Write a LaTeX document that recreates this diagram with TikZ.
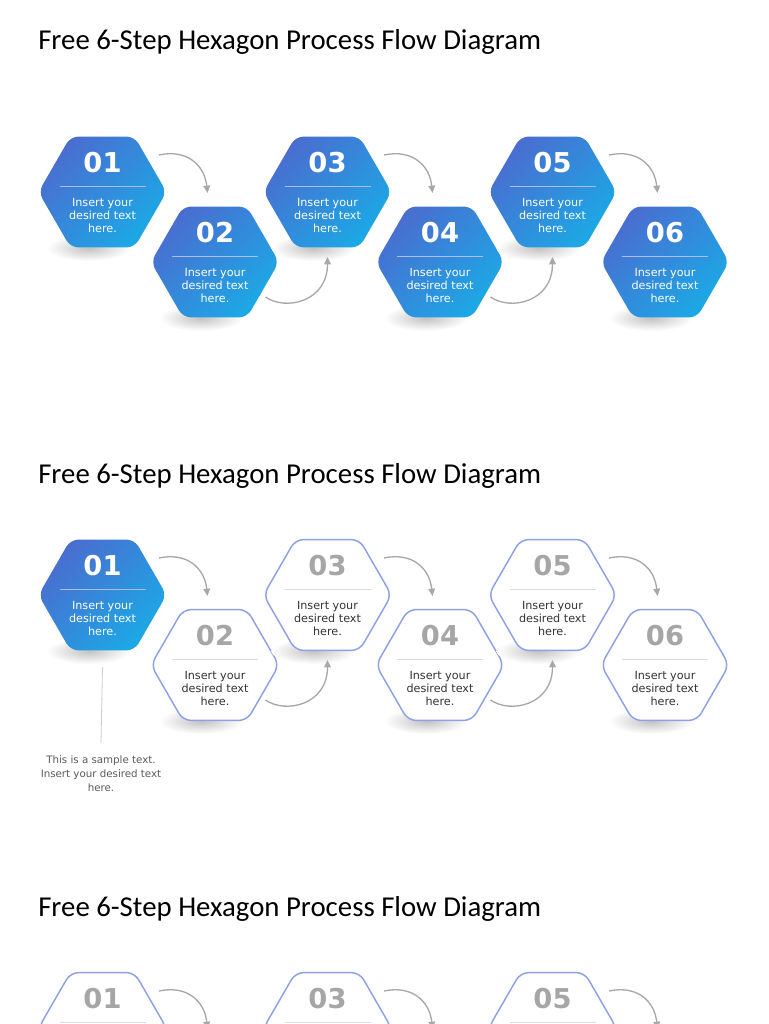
\documentclass[tikz,border=0pt]{standalone}
\usepackage{fontspec}
\setmainfont{DejaVu Sans}
\newfontfamily\headfont{Carlito}
\usetikzlibrary{arrows.meta,shapes.geometric}
\definecolor{hexA}{HTML}{4A6DD0}
\definecolor{hexB}{HTML}{1BA9E6}
\definecolor{rim}{HTML}{8FA1E6}
\definecolor{numgray}{HTML}{A6A6A6}
\definecolor{arrowgray}{HTML}{A8A8A8}
\definecolor{rulegray}{HTML}{DCDCDC}
\definecolor{rulelight}{HTML}{AFBCEC}
\definecolor{ink}{HTML}{333333}
\definecolor{notegray}{HTML}{5A5A5A}

\begin{document}
\begin{tikzpicture}[
  x=0.75pt,y=-0.75pt,
  hexbase/.style={regular polygon,regular polygon sides=6,minimum size=96pt,
                  inner sep=0pt,outer sep=0pt,rounded corners=6pt},
  hexfill/.style={hexbase,top color=hexA,bottom color=hexB,shading angle=45},
  hexline/.style={hexbase,draw=rim,fill=white,line width=1.1pt},
  numw/.style={font=\fontsize{20.5}{24}\selectfont\bfseries,text=white,inner sep=0pt},
  numg/.style={numw,text=numgray},
  txtw/.style={font=\fontsize{8.4}{10.1}\selectfont,align=center,text=white,inner sep=0pt},
  txtg/.style={txtw,text=ink},
  rulew/.style={draw=rulelight,line width=0.6pt},
  ruleg/.style={draw=rulegray,line width=0.6pt},
  flow/.style={-{Triangle[length=5.5pt,width=5pt]},draw=arrowgray,line width=1pt},
  softshade/.style={inner color=black!24,outer color=white},
  headline/.style={font=\headfont\fontsize{21.6}{26}\selectfont,anchor=base west,inner sep=0pt},
  note/.style={font=\fontsize{7.7}{10.5}\selectfont,align=center,text=notegray,inner sep=0pt},
  stem/.style={draw=black!20,line width=0.6pt}
]
\useasboundingbox (0,0) rectangle (768,1024);
\clip (0,0) rectangle (768,1024);
\fill[white] (0,0) rectangle (768,1024);

% slide 1: all steps filled
\node[headline] (t1) at (38,50) {Free 6-Step Hexagon Process Flow Diagram};
\foreach \n/\x/\y in {1/102.5/192,2/215/262,3/327.5/192,4/440/262,5/552.5/192,6/665/262}{
  \shade[softshade] (\x-14,\y+56) ellipse (42 and 13);
  \node[hexfill] (a\n) at (\x,\y) {};
  \node[numw] (a\n-num) at ([shift={(0,-29)}]a\n.center) {0\n};
  \draw[rulew] ([shift={(-43,-6)}]a\n.center) -- ([shift={(43,-6)}]a\n.center);
  \node[txtw] (a\n-txt) at ([shift={(0,23.5)}]a\n.center) {Insert your\\desired text\\here.};
}
\foreach \i/\j in {1/2,3/4,5/6}
  \draw[flow] ([shift={(56.5,-37)}]a\i.center) .. controls +(28,-6) and +(-3,-28) .. ([shift={(-7.5,-69)}]a\j.center);
\foreach \i/\j in {2/3,4/5}
  \draw[flow] ([shift={(50.5,35)}]a\i.center) .. controls +(20,14) and +(0,45) .. ([shift={(0,65)}]a\j.center);

% slide 2: first step filled, note below
\node[headline] (t2) at (38,483) {Free 6-Step Hexagon Process Flow Diagram};
\shade[softshade] (88.5,651) ellipse (42 and 13);
\node[hexfill] (b1) at (102.5,595) {};
\node[numw] (b1-num) at ([shift={(0,-29)}]b1.center) {01};
\draw[rulew] ([shift={(-43,-6)}]b1.center) -- ([shift={(43,-6)}]b1.center);
\node[txtw] (b1-txt) at ([shift={(0,23.5)}]b1.center) {Insert your\\desired text\\here.};
\foreach \n/\x/\y in {2/215/665,3/327.5/595,4/440/665,5/552.5/595,6/665/665}{
  \shade[softshade] (\x-14,\y+56) ellipse (42 and 13);
  \node[hexline] (b\n) at (\x,\y) {};
  \node[numg] (b\n-num) at ([shift={(0,-29)}]b\n.center) {0\n};
  \draw[ruleg] ([shift={(-43,-6)}]b\n.center) -- ([shift={(43,-6)}]b\n.center);
  \node[txtg] (b\n-txt) at ([shift={(0,23.5)}]b\n.center) {Insert your\\desired text\\here.};
}
\foreach \i/\j in {1/2,3/4,5/6}
  \draw[flow] ([shift={(56.5,-37)}]b\i.center) .. controls +(28,-6) and +(-3,-28) .. ([shift={(-7.5,-69)}]b\j.center);
\foreach \i/\j in {2/3,4/5}
  \draw[flow] ([shift={(50.5,35)}]b\i.center) .. controls +(20,14) and +(0,45) .. ([shift={(0,65)}]b\j.center);
\node[note] (b1-note) at (101,774) {This is a sample text.\\Insert your desired text\\here.};
\draw[stem] ([shift={(0,17)}]b1.south) -- ([shift={(0,-13)}]b1-note.north);

% slide 3: cut off by the page edge
\node[headline] (t3) at (38,916) {Free 6-Step Hexagon Process Flow Diagram};
\foreach \n/\x in {1/102.5,3/327.5,5/552.5}{
  \node[hexline] (c\n) at (\x,1028) {};
  \node[numg] (c\n-num) at ([shift={(0,-29)}]c\n.center) {0\n};
  \draw[ruleg] ([shift={(-43,-6)}]c\n.center) -- ([shift={(43,-6)}]c\n.center);
}
\coordinate (c2) at (215,1098);
\coordinate (c4) at (440,1098);
\coordinate (c6) at (665,1098);
\foreach \i/\j in {1/2,3/4,5/6}
  \draw[flow] ([shift={(56.5,-37)}]c\i.center) .. controls +(28,-6) and +(-3,-28) .. ([shift={(-7.5,-69)}]c\j);
\end{tikzpicture}
\end{document}
